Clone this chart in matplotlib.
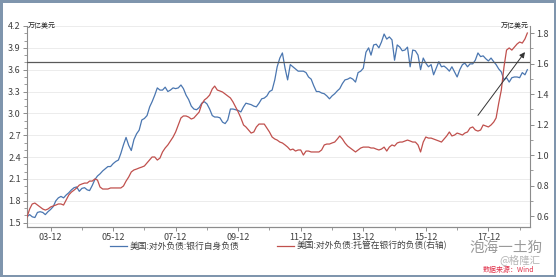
import numpy as np
import pandas as pd
import matplotlib
matplotlib.use("Agg")
import matplotlib.pyplot as plt
import matplotlib.dates as mdates
from matplotlib.ticker import MultipleLocator

plt.rcParams['font.family'] = ['Noto Sans CJK SC', 'DejaVu Sans']
plt.rcParams['axes.unicode_minus'] = False

# monthly, 2003-03 .. 2019-03
dates = pd.date_range("2003-03-01", periods=193, freq="MS")

# 美国:对外负债:银行自身负债 (万亿美元, left axis)
bank_own = [
    1.58, 1.61, 1.58, 1.57, 1.64, 1.65, 1.64, 1.61, 1.65, 1.68, 1.72, 1.80,
    1.84, 1.86, 1.84, 1.88, 1.91, 1.95, 1.98, 1.99, 1.93, 1.97, 1.98, 1.95,
    1.94, 2.01, 2.09, 2.14, 2.17, 2.21, 2.24, 2.27, 2.27, 2.31, 2.34, 2.36,
    2.45, 2.57, 2.67, 2.56, 2.49, 2.64, 2.72, 2.77, 2.91, 2.93, 2.97, 3.09,
    3.16, 3.25, 3.35, 3.32, 3.32, 3.36, 3.30, 3.32, 3.35, 3.34, 3.35, 3.39,
    3.34, 3.25, 3.19, 3.10, 3.06, 3.05, 3.08, 3.14, 3.16, 3.13, 3.06, 2.97,
    2.95, 2.95, 2.94, 2.88, 2.86, 2.91, 3.06, 3.06, 3.05, 3.04, 3.02, 3.09,
    3.14, 3.13, 3.12, 3.10, 3.09, 3.14, 3.20, 3.21, 3.24, 3.30, 3.32, 3.46,
    3.64, 3.76, 3.83, 3.62, 3.46, 3.67, 3.64, 3.61, 3.58, 3.58, 3.58, 3.56,
    3.50, 3.47, 3.38, 3.30, 3.30, 3.28, 3.27, 3.24, 3.20, 3.24, 3.27, 3.31,
    3.34, 3.41, 3.46, 3.47, 3.49, 3.47, 3.43, 3.56, 3.58, 3.62, 3.84, 3.90,
    3.80, 3.94, 3.95, 3.90, 3.98, 4.09, 4.02, 4.05, 4.01, 3.73, 3.94, 3.91,
    3.86, 3.87, 3.91, 3.64, 3.87, 3.86, 3.80, 3.60, 3.76, 3.69, 3.64, 3.67,
    3.53, 3.62, 3.71, 3.64, 3.65, 3.62, 3.58, 3.64, 3.57, 3.50, 3.60, 3.67,
    3.69, 3.64, 3.68, 3.68, 3.73, 3.83, 3.78, 3.79, 3.75, 3.72, 3.76, 3.71,
    3.67, 3.61, 3.57, 3.46, 3.49, 3.43, 3.49, 3.50, 3.50, 3.49, 3.56, 3.53,
    3.60,
]

# 美国:对外负债:托管在银行的负债 (万亿美元, right axis)
custody = [
    0.593, 0.646, 0.679, 0.685, 0.672, 0.659, 0.646, 0.639, 0.646, 0.659, 0.666, 0.672,
    0.679, 0.679, 0.672, 0.705, 0.738, 0.757, 0.770, 0.784, 0.803, 0.810, 0.816, 0.816,
    0.829, 0.829, 0.843, 0.836, 0.790, 0.777, 0.777, 0.777, 0.784, 0.784, 0.784, 0.784,
    0.784, 0.797, 0.829, 0.856, 0.889, 0.902, 0.908, 0.915, 0.921, 0.928, 0.948, 0.967,
    0.987, 0.987, 0.967, 0.980, 1.020, 1.046, 1.066, 1.092, 1.118, 1.151, 1.197, 1.243,
    1.256, 1.256, 1.249, 1.236, 1.243, 1.262, 1.282, 1.334, 1.361, 1.374, 1.393, 1.433,
    1.452, 1.426, 1.420, 1.413, 1.400, 1.387, 1.374, 1.348, 1.315, 1.282, 1.243, 1.197,
    1.184, 1.164, 1.144, 1.151, 1.184, 1.203, 1.203, 1.203, 1.177, 1.151, 1.118, 1.105,
    1.098, 1.085, 1.079, 1.066, 1.052, 1.033, 1.039, 1.026, 1.033, 1.033, 1.000, 1.026,
    1.026, 1.020, 1.020, 1.020, 1.020, 1.033, 1.066, 1.072, 1.072, 1.079, 1.085, 1.105,
    1.125, 1.105, 1.079, 1.059, 1.046, 1.033, 1.020, 1.033, 1.046, 1.052, 1.052, 1.052,
    1.046, 1.046, 1.039, 1.033, 1.039, 1.052, 1.026, 1.052, 1.066, 1.059, 1.079, 1.085,
    1.085, 1.092, 1.098, 1.092, 1.085, 1.085, 1.066, 1.020, 1.085, 1.118, 1.111, 1.111,
    1.105, 1.098, 1.092, 1.085, 1.105, 1.125, 1.151, 1.125, 1.131, 1.144, 1.138, 1.131,
    1.144, 1.151, 1.177, 1.184, 1.164, 1.157, 1.164, 1.197, 1.190, 1.184, 1.197, 1.216,
    1.243, 1.341, 1.426, 1.577, 1.688, 1.702, 1.688, 1.708, 1.728, 1.741, 1.734, 1.761,
    1.800,
]

left_ticks = [1.5, 1.8, 2.1, 2.4, 2.7, 3.0, 3.3, 3.6, 3.9, 4.2]
right_ticks = [0.6, 0.8, 1.0, 1.2, 1.4, 1.6, 1.8]
ref_level = 3.7
arrow_from = (pd.Timestamp("2017-08-01"), 1.26)
arrow_to = (pd.Timestamp("2019-02-01"), 1.675)

blue = "#4a76b0"
red = "#c0504d"
axis_col = "#8c8c8c"
txt_col = "#404040"
fs = 6.5

fig = plt.figure(figsize=(5.56, 2.77), dpi=100)
fig.patch.set_edgecolor("#7f95ad")
fig.patch.set_linewidth(2.5)

ax = fig.add_axes([27 / 556, 1 - 227 / 277, 503 / 556, 201 / 277])
ax2 = ax.twinx()

l1, = ax.plot(dates, bank_own, color=blue, lw=0.9, label="美国:对外负债:银行自身负债")
l2, = ax2.plot(dates, custody, color=red, lw=0.9, label="美国:对外负债:托管在银行的负债(右轴)")
ax.axhline(ref_level, color="#595959", lw=0.9, zorder=3)

ax.set_ylim(1.44, 4.2)
ax2.set_ylim(0.528, 1.846)
ax.set_xlim(pd.Timestamp("2003-03-01"), pd.Timestamp("2019-04-01"))

ax.set_yticks(left_ticks)
ax.yaxis.set_minor_locator(MultipleLocator(0.1))
ax2.set_yticks(right_ticks)
ax2.yaxis.set_minor_locator(MultipleLocator(0.1))
ax.yaxis.set_major_formatter(plt.FormatStrFormatter("%.1f"))
ax2.yaxis.set_major_formatter(plt.FormatStrFormatter("%.1f"))

years = pd.date_range("2003-12-01", "2018-12-01", freq="12MS")
ax.set_xticks(years[::2])
ax.set_xticks(years[1::2], minor=True)
ax.xaxis.set_major_formatter(mdates.DateFormatter("%y-%m"))

ax.grid(axis="y", color="#ececec", lw=0.7)
ax.set_axisbelow(True)

for a in (ax, ax2):
    a.spines["top"].set_visible(False)
    for s in ("left", "right", "bottom"):
        a.spines[s].set_color(axis_col)
        a.spines[s].set_linewidth(0.8)
    a.tick_params(which="major", length=3, width=0.7, color=axis_col,
                  labelsize=fs, labelcolor=txt_col, pad=1.5)
    a.tick_params(which="minor", length=2, width=0.6, color=axis_col)

ax2.spines["left"].set_visible(False)
ax.spines["right"].set_visible(False)

ax.text(0.002, 1.0, "万亿美元", transform=ax.transAxes, fontsize=5, color="#222222",
        ha="left", va="center")
ax.text(0.997, 1.0, "万亿美元", transform=ax.transAxes, fontsize=5, color="#222222",
        ha="right", va="center")

ax2.annotate("", xy=arrow_to, xytext=arrow_from,
             arrowprops=dict(arrowstyle="-|>", color="#333333", lw=0.7,
                             mutation_scale=8, shrinkA=0, shrinkB=0))

fig.legend(handles=[l1, l2], loc="center left", bbox_to_anchor=(102 / 556, 1 - 246 / 277),
           ncol=2, frameon=False, fontsize=6.3, handlelength=1.9, handletextpad=0.3,
           columnspacing=4.4, labelcolor=txt_col)

# watermark
fig.text(506 / 556, 1 - 248 / 277, "泡海一土狗", fontsize=10.5, color="#9a9a9a",
         ha="center", va="center")
fig.text(520 / 556, 1 - 260 / 277, "@格隆汇", fontsize=7.5, color="#b5b5b5",
         ha="center", va="center")
fig.text(508 / 556, 1 - 270 / 277, "数据来源：Wind", fontsize=5, color="#e0304a",
         ha="center", va="center", style="italic")

fig.savefig("out.png", dpi=100)
